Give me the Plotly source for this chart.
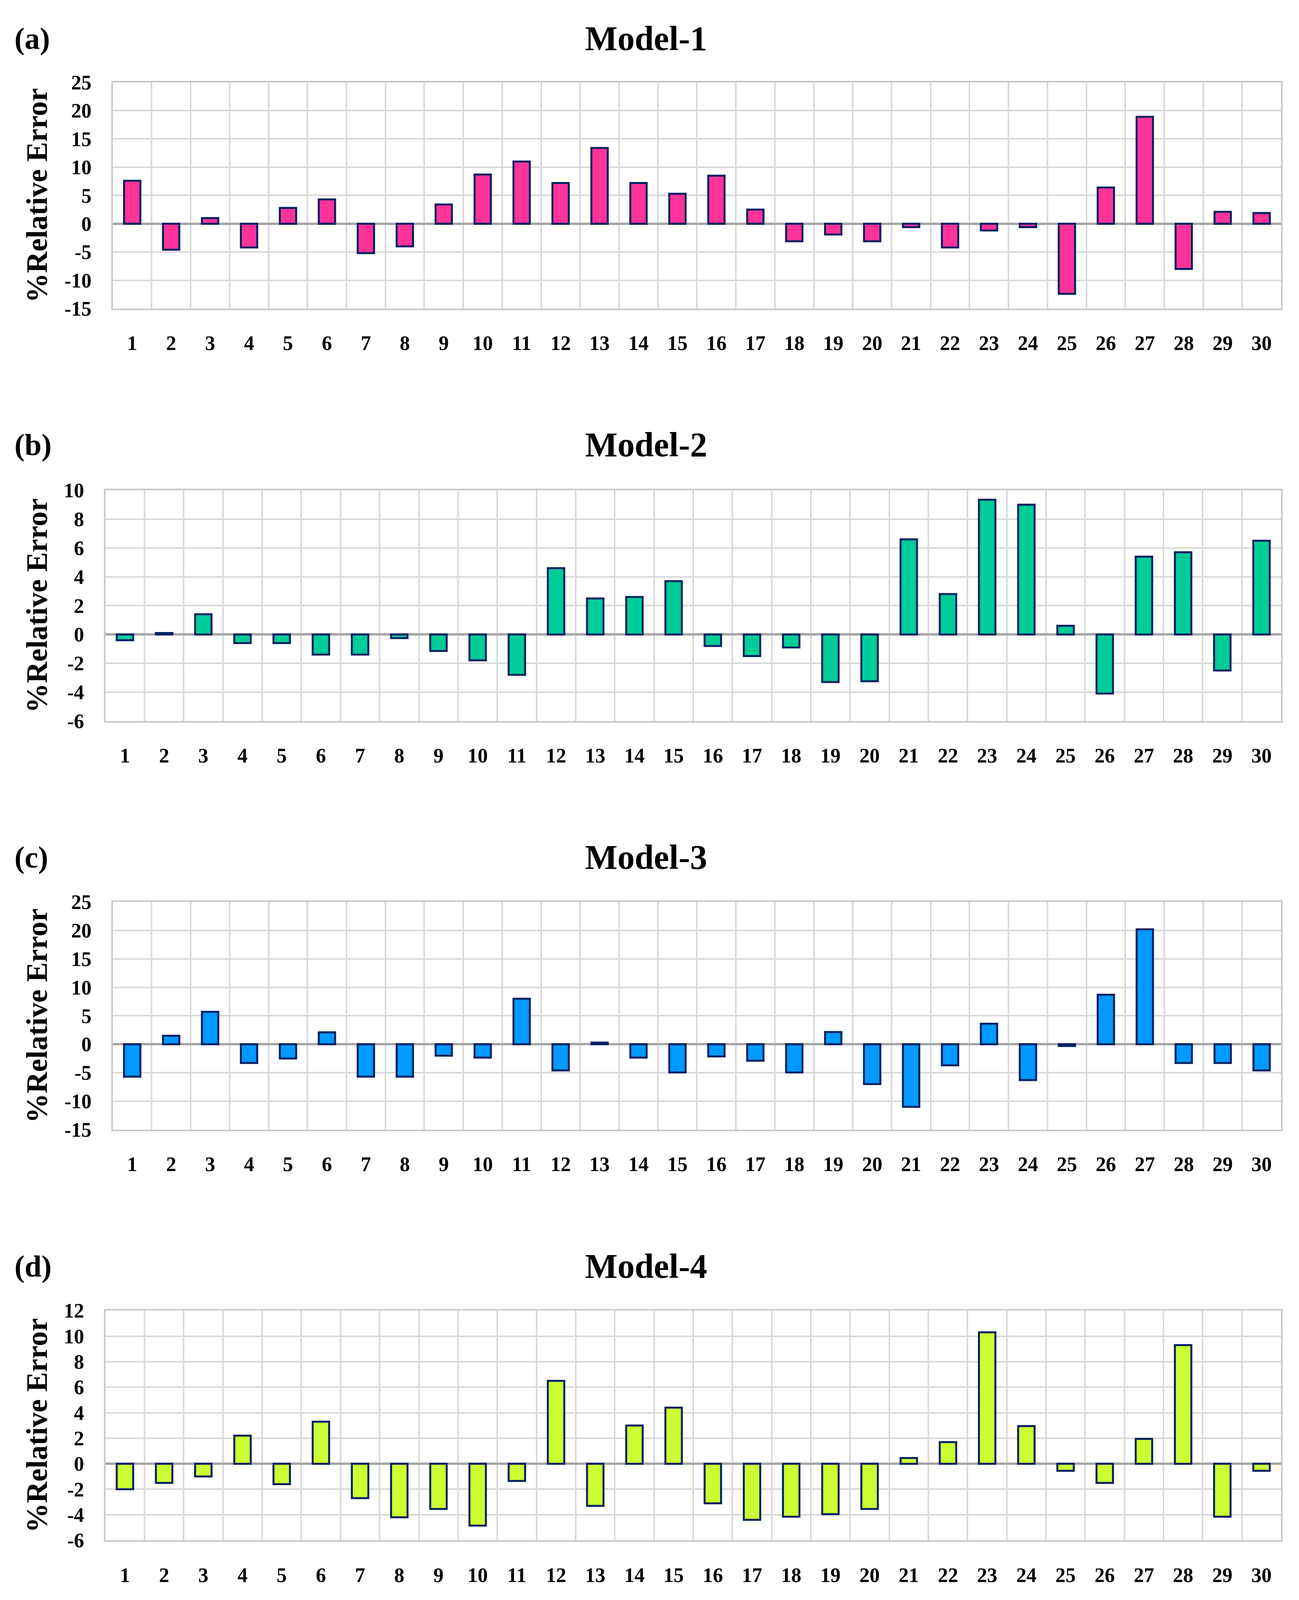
import plotly.graph_objects as go

samples = list(range(1, 31))

model1 = [7.6, -4.6, 1.0, -4.2, 2.8, 4.3, -5.2, -4.0, 3.4, 8.7,
          11.0, 7.2, 13.4, 7.2, 5.3, 8.5, 2.5, -3.1, -1.9, -3.1,
          -0.6, -4.2, -1.2, -0.6, -12.4, 6.4, 18.9, -8.0, 2.1, 1.9]
model2 = [-0.4, 0.1, 1.4, -0.6, -0.6, -1.4, -1.4, -0.25, -1.15, -1.8,
          -2.8, 4.6, 2.5, 2.6, 3.7, -0.8, -1.5, -0.9, -3.3, -3.25,
          6.6, 2.8, 9.35, 9.0, 0.6, -4.1, 5.4, 5.7, -2.5, 6.5]
model3 = [-5.7, 1.5, 5.7, -3.3, -2.5, 2.1, -5.7, -5.7, -2.0, -2.35,
          8.0, -4.6, 0.3, -2.35, -4.95, -2.15, -2.9, -4.95, 2.15, -7.0,
          -11.0, -3.7, 3.6, -6.3, -0.3, 8.7, 20.2, -3.3, -3.3, -4.6]
model4 = [-2.0, -1.5, -1.0, 2.2, -1.6, 3.3, -2.7, -4.2, -3.55, -4.85,
          -1.35, 6.5, -3.3, 3.0, 4.4, -3.1, -4.4, -4.15, -3.95, -3.55,
          0.45, 1.7, 10.3, 2.95, -0.55, -1.5, 1.95, 9.3, -4.15, -0.55]

titles = ["Model-1", "Model-2", "Model-3", "Model-4"]
labels = ["(a)", "(b)", "(c)", "(d)"]
colors = ["#FF3399", "#00CC99", "#0099FF", "#CCFF33"]
yticks = [[-15, -10, -5, 0, 5, 10, 15, 20, 25],
          [-6, -4, -2, 0, 2, 4, 6, 8, 10],
          [-15, -10, -5, 0, 5, 10, 15, 20, 25],
          [-6, -4, -2, 0, 2, 4, 6, 8, 10, 12]]

W, H = 3326, 4722
# plot area (pixels from top) for each panel, as in the reference
tops = [205, 1431, 2668, 3896]
bottoms = [885, 2124, 3352, 4586]
lefts = [282, 263, 282, 263]
right = 3288
title_y = [73, 1294, 2534, 3762]

font = "Liberation Serif"
grid = "#d9d9d9"

fig = go.Figure()
for i, vals in enumerate([model1, model2, model3, model4]):
    n = "" if i == 0 else str(i + 1)
    fig.add_trace(go.Bar(
        x=samples, y=vals, width=0.42,
        marker=dict(color=colors[i], line=dict(color="#002060", width=5)),
        xaxis="x" + n, yaxis="y" + n, showlegend=False
    ))
    fig.update_layout({
        "xaxis" + n: dict(
            domain=[lefts[i] / W, right / W], anchor="y" + n,
            range=[0.5, 30.5], tickmode="array", tickvals=samples,
            showgrid=False, zeroline=False, ticks="",
            ticklabelstandoff=40,
            showline=True, mirror=True, linecolor="#c8c8c8", linewidth=4,
            tickfont=dict(family=font, size=52, color="black", weight="bold"),
            minor=dict(tickmode="linear", tick0=0.5, dtick=1, showgrid=True,
                       gridcolor=grid, gridwidth=4, ticks=""),
        ),
        "yaxis" + n: dict(
            domain=[1 - bottoms[i] / H, 1 - tops[i] / H], anchor="x" + n,
            range=[yticks[i][0], yticks[i][-1]],
            tickmode="array", tickvals=yticks[i],
            ticktext=[str(v) for v in yticks[i]],
            showgrid=True, gridcolor=grid, gridwidth=4,
            zeroline=True, zerolinecolor="#a6a6a6", zerolinewidth=6,
            ticks="", ticklabelstandoff=40,
            showline=True, mirror=True, linecolor="#c8c8c8", linewidth=4,
            tickfont=dict(family=font, size=52, color="black", weight="bold"),
        ),
    })
    # panel title, panel letter and y-axis title
    fig.add_annotation(x=1654 / W, y=1 - title_y[i] / H, xref="paper", yref="paper",
                       text=titles[i], showarrow=False, xanchor="center", yanchor="middle",
                       font=dict(family=font, size=88, color="black", weight="bold"))
    fig.add_annotation(x=27 / W, y=1 - title_y[i] / H, xref="paper", yref="paper",
                       text=labels[i], showarrow=False, xanchor="left", yanchor="middle",
                       font=dict(family=font, size=78, color="black", weight="bold"))
    fig.add_annotation(x=87 / W, y=1 - (tops[i] + bottoms[i]) / 2 / H, xref="paper", yref="paper",
                       text="%Relative Error", textangle=-90, showarrow=False,
                       xanchor="center", yanchor="middle",
                       font=dict(family=font, size=76, color="black", weight="bold"))

# no fixed size: let the figure fill the browser window
fig.update_layout(
    autosize=True,
    margin=dict(l=0, r=0, t=0, b=0),
    paper_bgcolor="white", plot_bgcolor="white",
)

fig.write_html("out.html")
